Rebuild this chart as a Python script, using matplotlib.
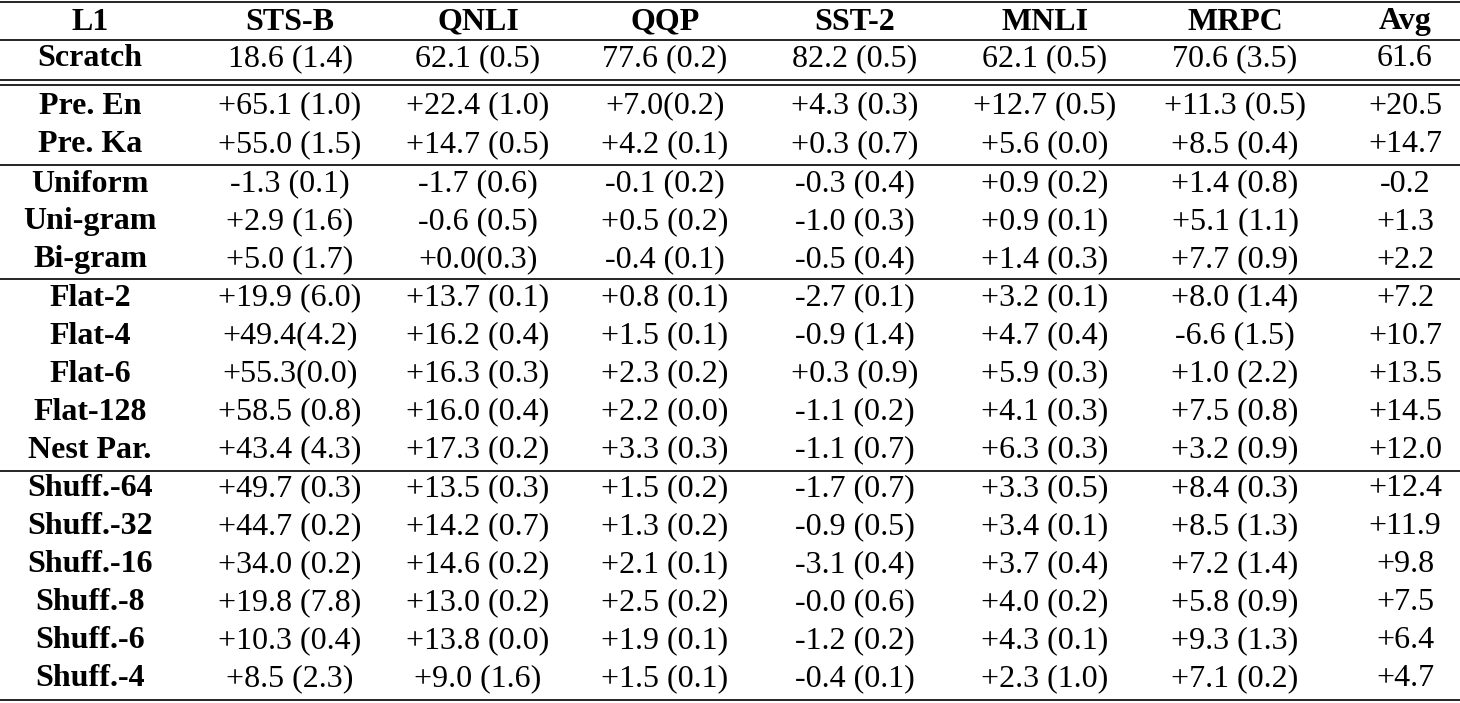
import matplotlib
matplotlib.use("Agg")
import matplotlib.pyplot as plt

columns = ["L1", "STS-B", "QNLI", "QQP", "SST-2", "MNLI", "MRPC", "Avg"]
row_labels = ["Scratch", "Pre. En", "Pre. Ka", "Uniform", "Uni-gram", "Bi-gram",
              "Flat-2", "Flat-4", "Flat-6", "Flat-128", "Nest Par.",
              "Shuff.-64", "Shuff.-32", "Shuff.-16", "Shuff.-8", "Shuff.-6", "Shuff.-4"]
cells = [
    ["18.6 (1.4)", "62.1 (0.5)", "77.6 (0.2)", "82.2 (0.5)", "62.1 (0.5)", "70.6 (3.5)", "61.6"],
    ["+65.1 (1.0)", "+22.4 (1.0)", "+7.0(0.2)", "+4.3 (0.3)", "+12.7 (0.5)", "+11.3 (0.5)", "+20.5"],
    ["+55.0 (1.5)", "+14.7 (0.5)", "+4.2 (0.1)", "+0.3 (0.7)", "+5.6 (0.0)", "+8.5 (0.4)", "+14.7"],
    ["-1.3 (0.1)", "-1.7 (0.6)", "-0.1 (0.2)", "-0.3 (0.4)", "+0.9 (0.2)", "+1.4 (0.8)", "-0.2"],
    ["+2.9 (1.6)", "-0.6 (0.5)", "+0.5 (0.2)", "-1.0 (0.3)", "+0.9 (0.1)", "+5.1 (1.1)", "+1.3"],
    ["+5.0 (1.7)", "+0.0(0.3)", "-0.4 (0.1)", "-0.5 (0.4)", "+1.4 (0.3)", "+7.7 (0.9)", "+2.2"],
    ["+19.9 (6.0)", "+13.7 (0.1)", "+0.8 (0.1)", "-2.7 (0.1)", "+3.2 (0.1)", "+8.0 (1.4)", "+7.2"],
    ["+49.4(4.2)", "+16.2 (0.4)", "+1.5 (0.1)", "-0.9 (1.4)", "+4.7 (0.4)", "-6.6 (1.5)", "+10.7"],
    ["+55.3(0.0)", "+16.3 (0.3)", "+2.3 (0.2)", "+0.3 (0.9)", "+5.9 (0.3)", "+1.0 (2.2)", "+13.5"],
    ["+58.5 (0.8)", "+16.0 (0.4)", "+2.2 (0.0)", "-1.1 (0.2)", "+4.1 (0.3)", "+7.5 (0.8)", "+14.5"],
    ["+43.4 (4.3)", "+17.3 (0.2)", "+3.3 (0.3)", "-1.1 (0.7)", "+6.3 (0.3)", "+3.2 (0.9)", "+12.0"],
    ["+49.7 (0.3)", "+13.5 (0.3)", "+1.5 (0.2)", "-1.7 (0.7)", "+3.3 (0.5)", "+8.4 (0.3)", "+12.4"],
    ["+44.7 (0.2)", "+14.2 (0.7)", "+1.3 (0.2)", "-0.9 (0.5)", "+3.4 (0.1)", "+8.5 (1.3)", "+11.9"],
    ["+34.0 (0.2)", "+14.6 (0.2)", "+2.1 (0.1)", "-3.1 (0.4)", "+3.7 (0.4)", "+7.2 (1.4)", "+9.8"],
    ["+19.8 (7.8)", "+13.0 (0.2)", "+2.5 (0.2)", "-0.0 (0.6)", "+4.0 (0.2)", "+5.8 (0.9)", "+7.5"],
    ["+10.3 (0.4)", "+13.8 (0.0)", "+1.9 (0.1)", "-1.2 (0.2)", "+4.3 (0.1)", "+9.3 (1.3)", "+6.4"],
    ["+8.5 (2.3)", "+9.0 (1.6)", "+1.5 (0.1)", "-0.4 (0.1)", "+2.3 (1.0)", "+7.1 (0.2)", "+4.7"],
]

fig = plt.figure(figsize=(14.6, 7.03), dpi=100)
ax = fig.add_axes([0, 0, 1, 1])
ax.set_xlim(0, 1460)
ax.set_ylim(703, 0)
ax.axis("off")

col_x = [90, 290, 478, 665, 855, 1045, 1235, 1405]
header_y = 20
row_y = [57, 104, 143, 182, 220, 258, 296, 334, 372, 410, 448, 487, 525, 563, 601, 639, 677]
fs = 23
font = "Liberation Serif"
dy = 2

for x, c in zip(col_x, columns):
    ax.text(x, header_y + dy, c, ha="center", va="center", fontsize=fs, fontweight="bold", family=font)
for y, lab, row in zip(row_y, row_labels, cells):
    ax.text(col_x[0], y + dy, lab, ha="center", va="center", fontsize=fs, fontweight="bold", family=font)
    for x, v in zip(col_x[1:], row):
        ax.text(x, y + dy, v, ha="center", va="center", fontsize=fs, family=font)

for y in [2, 40, 80, 85, 165, 279, 471, 700]:
    ax.plot([0, 1460], [y, y], color="black", lw=1.2)

fig.savefig("out.png", dpi=100)
